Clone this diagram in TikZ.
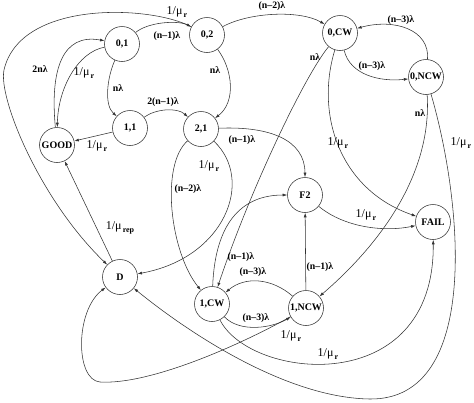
\documentclass[tikz,border=0pt]{standalone}
\usepackage{fontspec}
\setmainfont{Liberation Serif}
\usetikzlibrary{arrows.meta}
\newcommand{\myMuR}{1/μ\hspace{1.2pt}\raisebox{-2.8pt}{\fontsize{8}{8}\selectfont\bfseries r}}
\newcommand{\myMuRep}{1/μ\hspace{1.2pt}\raisebox{-2.8pt}{\fontsize{8}{8}\selectfont\bfseries rep}}
\begin{document}
\begin{tikzpicture}[x=1pt,y=-1pt,
  st/.style={circle,draw=black!80,line width=0.55pt,minimum size=35pt,inner sep=0pt,font=\fontsize{10}{11}\selectfont\bfseries},
  ed/.style={draw=black!80,line width=0.55pt,-{Latex[length=4.5pt,width=3pt]}},
  lab/.style={inner sep=0pt,font=\fontsize{9.8}{10}\selectfont\bfseries},
  mlab/.style={inner sep=0pt,font=\fontsize{12}{12}\selectfont}]
\useasboundingbox (0,0) rectangle (474,402);
% states
\node[st] (n01) at (122,44) {0,1};
\node[st] (n02) at (207,35) {0,2};
\node[st] (n11) at (130,128) {1,1};
\node[st] (n21) at (201,129) {2,1};
\node[st] (good) at (57,145) {GOOD};
\node[st] (ocw) at (340,33) {0,CW};
\node[st] (oncw) at (426,77) {0,NCW};
\node[st] (f2) at (305,195) {F2};
\node[st] (fail) at (433,222) {FAIL};
\node[st] (d) at (120,277) {D};
\node[st] (cw1) at (212,304) {1,CW};
\node[st] (ncw1) at (306,308) {1,NCW};
% waypoints
\coordinate (wl) at (4,70);
\coordinate (wb) at (370,399);
\coordinate (wd) at (100,382);
% transitions
\draw[ed] (good) .. controls (50,70) and (62,33) .. (n01) node[lab] at (40,69) {2nλ};
\draw[ed] (n01) .. controls (78,52) and (58,88) .. (good) node[mlab] at (84,73) {\myMuR};
\draw[ed] (n01) .. controls (107,78) and (104,105) .. (n11) node[lab] at (118,88) {nλ};
\draw[ed] (n01) .. controls (148,22) and (178,20) .. (n02) node[lab] at (167,36) {(n–1)λ};
\draw[ed] (n11) -- (good) node[mlab] at (97,146) {\myMuR};
\draw[ed] (n11) .. controls (155,109) and (177,107) .. (n21) node[lab] at (163,102) {2(n–1)λ};
\draw[ed] (n02) .. controls (233,70) and (236,102) .. (n21) node[lab] at (215,70) {nλ};
\draw[ed] (n02) .. controls (150,5) and (20,0) .. (wl) .. controls (-2,98) and (40,200) .. (d) node[mlab] at (177,12) {\myMuR};
\draw[ed] (d) -- (good) node[mlab] at (120,228) {\myMuRep};
\draw[ed] (n21) .. controls (270,126) and (305,140) .. (f2) node[lab] at (242,140) {(n–1)λ};
\draw[ed] (n21) .. controls (255,180) and (225,258) .. (d) node[mlab] at (209,166) {\myMuR};
\draw[ed] (n21) .. controls (160,165) and (170,252) .. (cw1) node[lab] at (188,189) {(n–2)λ};
\draw[ed] (n02) .. controls (250,12) and (300,10) .. (ocw) node[lab] at (272,6) {(n–2)λ};
\draw[ed] (oncw) .. controls (430,30) and (395,18) .. (ocw) node[lab] at (401,20) {(n–3)λ};
\draw[ed] (ocw) .. controls (350,75) and (380,82) .. (oncw) node[lab] at (372,66) {(n–3)λ};
\draw[ed] (ocw) .. controls (305,75) and (250,190) .. (cw1) node[lab] at (315,57) {nλ};
\draw[ed] (ocw) .. controls (315,115) and (340,190) .. (fail) node[mlab] at (338,143) {\myMuR};
\draw[ed] (oncw) .. controls (432,170) and (385,240) .. (ncw1) node[lab] at (420,113) {nλ};
\draw[ed] (oncw) .. controls (462,200) and (482,400) .. (wb) .. controls (290,398) and (195,338) .. (d) node[mlab] at (461,143) {\myMuR};
\draw[ed] (ncw1) .. controls (240,345) and (150,385) .. (wd) .. controls (75,380) and (75,310) .. (d) node[mlab] at (291,336) {\myMuR};
\draw[ed] (cw1) .. controls (250,380) and (435,400) .. (fail) node[mlab] at (328,354) {\myMuR};
\draw[ed] (cw1) .. controls (215,225) and (240,195) .. (f2) node[lab] at (241,257) {(n–1)λ};
\draw[ed] (ncw1) .. controls (272,278) and (245,276) .. (cw1) node[lab] at (253,272) {(n–3)λ};
\draw[ed] (cw1) .. controls (240,333) and (272,328) .. (ncw1) node[lab] at (256,318) {(n–3)λ};
\draw[ed] (ncw1) -- (f2) node[lab] at (320,267) {(n–1)λ};
\draw[ed] (f2) .. controls (345,228) and (385,232) .. (fail) node[mlab] at (366,215) {\myMuR};
\end{tikzpicture}
\end{document}
